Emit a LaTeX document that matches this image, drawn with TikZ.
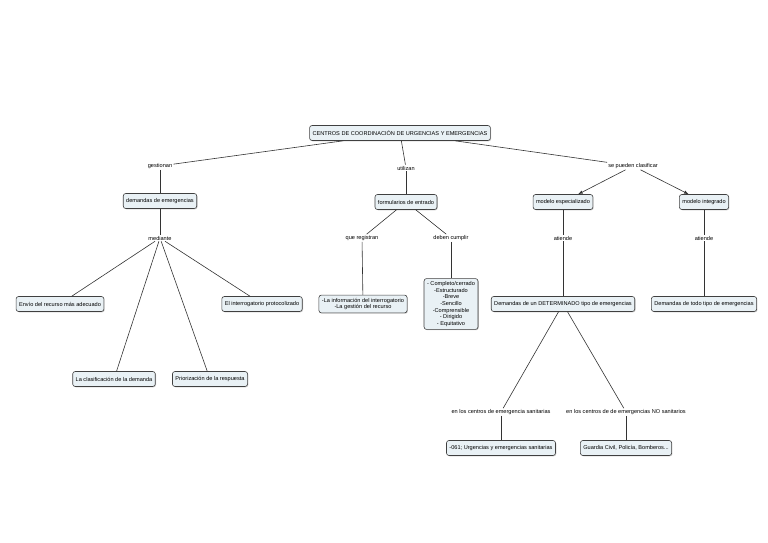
\documentclass[tikz,border=0pt]{standalone}
\usepackage{fontspec}
\setmainfont{Liberation Sans}
\usetikzlibrary{shadows}
\definecolor{boxfill}{HTML}{E9F1F5}
\begin{document}
\begin{tikzpicture}[x=1pt,y=-1pt,
  box/.style={draw=black!75,line width=0.6pt,rounded corners=2.5pt,fill=boxfill,inner sep=3pt,minimum height=15pt,font=\fontsize{5.6}{6.6}\selectfont,align=center,drop shadow={shadow xshift=0.8pt,shadow yshift=-0.8pt,opacity=0.4}},
  lab/.style={fill=white,inner sep=1pt,font=\fontsize{5.6}{6.6}\selectfont},
  ln/.style={draw=black!80,line width=0.6pt},
  ar/.style={ln,-latex}]
\useasboundingbox (0,0) rectangle (768,543);
\node[box] (root) at (400,133) {CENTROS DE COORDINACIÓN DE URGENCIAS Y EMERGENCIAS};
\node[lab] (ges) at (160,166) {gestionan};
\node[lab] (uti) at (406,168) {utilizan};
\node[lab] (spc) at (633,166) {se pueden clasificar};
\node[box] (dem) at (160,201) {demandas de emergencias};
\node[box] (for) at (406,202) {formularios de entrado};
\node[box] (mes) at (563,202) {modelo especializado};
\node[box] (min) at (704,202) {modelo integrado};
\node[lab] (med) at (160,238) {mediante};
\node[lab] (qre) at (362,238) {que registran};
\node[lab] (dcu) at (451,238) {deben cumplir};
\node[lab] (at1) at (563,238) {atiende};
\node[lab] (at2) at (704,238) {atiende};
\node[box] (env) at (60,304) {Envío del recurso más adecuado};
\node[box] (int) at (262,304) {El interrogatorio protocolizado};
\node[box] (inf) at (363,304) {-La información del interrogatorio\\-La gestión del recurso};
\node[box] (lis) at (451,304) {- Completo/cerrado\\-Estructurado\\-Breve\\-Sencillo\\-Comprensible\\- Dirigido\\- Equitativo};
\node[box] (ddt) at (563,304) {Demandas de un DETERMINADO tipo de emergencias};
\node[box] (dto) at (704,304) {Demandas de todo tipo de emergencias};
\node[box] (cla) at (114,379) {La clasificación de la demanda};
\node[box] (pri) at (210,379) {Priorización de la respuesta};
\node[lab] (ces) at (501,412) {en los centros de emergencia sanitarias};
\node[lab] (cns) at (626,412) {en los centros de de emergencias NO sanitarios};
\node[box] (san) at (501,448) {-061; Urgencias y emergencias sanitarias};
\node[box] (gua) at (626,448) {Guardia Civil, Policía, Bomberos...};
\draw[ln] (root) -- (ges); \draw[ln] (ges) -- (dem);
\draw[ln] (root) -- (uti); \draw[ln] (uti) -- (for);
\draw[ln] (root) -- (spc);
\draw[ar] (spc) -- (mes); \draw[ar] (spc) -- (min);
\draw[ln] (dem) -- (med);
\draw[ln] (med) -- (env); \draw[ln] (med) -- (int);
\draw[ln] (med) -- (cla); \draw[ln] (med) -- (pri);
\draw[ln] (for) -- (qre); \draw[ln] (qre) -- (inf);
\draw[ln] (for) -- (dcu); \draw[ln] (dcu) -- (lis);
\draw[ln] (mes) -- (at1); \draw[ln] (at1) -- (ddt);
\draw[ln] (min) -- (at2); \draw[ln] (at2) -- (dto);
\draw[ln] (ddt) -- (ces); \draw[ln] (ces) -- (san);
\draw[ln] (ddt) -- (cns); \draw[ln] (cns) -- (gua);
\end{tikzpicture}
\end{document}
